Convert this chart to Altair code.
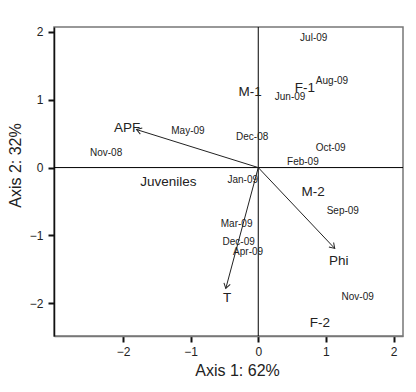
import math
import altair as alt
import pandas as pd

# Sample (month) labels
month_names = ["Jul-09", "Aug-09", "Jun-09", "Dec-08", "Oct-09", "Feb-09", "May-09",
               "Nov-08", "Jan-09", "Sep-09", "Mar-09", "Dec-09", "Apr-09", "Nov-09"]
month_x = [0.82, 1.09, 0.47, -0.09, 1.07, 0.66, -1.04, -2.25, -0.23, 1.25, -0.32, -0.29, -0.15, 1.47]
month_y = [1.91, 1.28, 1.04, 0.45, 0.29, 0.08, 0.54, 0.21, -0.18, -0.64, -0.83, -1.10, -1.24, -1.91]

# Group / variable labels
group_names = ["M-1", "F-1", "APF", "Juveniles", "M-2", "Phi", "T", "F-2"]
group_x = [-0.12, 0.69, -1.94, -1.33, 0.81, 1.19, -0.46, 0.91]
group_y = [1.12, 1.17, 0.58, -0.21, -0.36, -1.38, -1.92, -2.29]

# Environmental vectors (arrow tips)
arrow_names = ["APF", "Phi", "T"]
arrow_x = [-1.80, 1.13, -0.48]
arrow_y = [0.56, -1.19, -1.78]

tick_values = [-2, -1, 0, 1, 2]

x_domain = [-3.02, 2.14]
y_domain = [-2.48, 2.07]
W, H = 349, 309

sx = W / (x_domain[1] - x_domain[0])
sy = H / (y_domain[1] - y_domain[0])

months = pd.DataFrame({"name": month_names, "x": month_x, "y": month_y})
groups = pd.DataFrame({"name": group_names, "x": group_x, "y": group_y})
arrows = pd.DataFrame({"name": arrow_names, "x": arrow_x, "y": arrow_y})
arrows["x0"] = 0.0
arrows["y0"] = 0.0
arrows["angle"] = [
    math.degrees(math.atan2(-yy * sy, xx * sx)) % 360 for xx, yy in zip(arrow_x, arrow_y)
]

xs = alt.Scale(domain=x_domain, nice=False, zero=False)
ys = alt.Scale(domain=y_domain, nice=False, zero=False)

xaxis = alt.Axis(values=tick_values, format="d", title="Axis 1: 62%", grid=False,
                 tickColor="#111", tickWidth=2, tickSize=6, domainColor="#777",
                 domainWidth=1.5, labelFontSize=12, labelColor="#222", labelPadding=4,
                 titleFontSize=16, titleFontWeight="normal", titleColor="#222",
                 titleX=183, titleY=34, titleBaseline="middle", titleAlign="center")
yaxis = alt.Axis(values=tick_values, format="d", title="Axis 2: 32%", grid=False,
                 tickColor="#111", tickWidth=2, tickSize=6, domainColor="#111",
                 domainWidth=1.5, labelFontSize=12, labelColor="#222", labelPadding=5,
                 titleFontSize=16, titleFontWeight="normal", titleColor="#222",
                 titleX=-39, titleY=138, titleBaseline="middle", titleAlign="center",
                 titleAngle=270)

base_df = pd.DataFrame({"v": [0.0]})

vline = alt.Chart(base_df).mark_rule(color="#000", strokeWidth=1).encode(
    x=alt.X("v:Q", scale=xs, axis=xaxis)
)
hline = alt.Chart(base_df).mark_rule(color="#000", strokeWidth=1).encode(
    y=alt.Y("v:Q", scale=ys, axis=yaxis)
)

arrow_lines = alt.Chart(arrows).mark_rule(color="#222", strokeWidth=1).encode(
    x=alt.X("x0:Q", scale=xs), y=alt.Y("y0:Q", scale=ys),
    x2="x:Q", y2="y:Q"
)
arrow_heads = alt.Chart(arrows).mark_point(
    shape="M -1 -0.65 L 0 0 L -1 0.65", filled=False, color="#222",
    strokeWidth=1, size=100, opacity=1
).encode(
    x=alt.X("x:Q", scale=xs), y=alt.Y("y:Q", scale=ys),
    angle=alt.Angle("angle:Q", scale=None)
)

month_text = alt.Chart(months).mark_text(
    fontSize=10, font="Liberation Sans", color="#222"
).encode(x=alt.X("x:Q", scale=xs), y=alt.Y("y:Q", scale=ys), text="name:N")

group_text = alt.Chart(groups).mark_text(
    fontSize=13.5, font="Liberation Sans", color="#222"
).encode(x=alt.X("x:Q", scale=xs), y=alt.Y("y:Q", scale=ys), text="name:N")

chart = alt.layer(
    vline, hline, arrow_lines, arrow_heads, month_text, group_text
).properties(
    width=W, height=H,
    autosize=alt.AutoSizeParams(type="none"),
    padding={"left": 46, "top": 19, "right": 5, "bottom": 48},
    background="white",
).configure_view(
    stroke="#777", strokeWidth=1.5
).configure_axis(
    labelFont="Liberation Sans", titleFont="Liberation Sans"
)

chart.save("out.html", embed_options={"renderer": "svg", "actions": False})
